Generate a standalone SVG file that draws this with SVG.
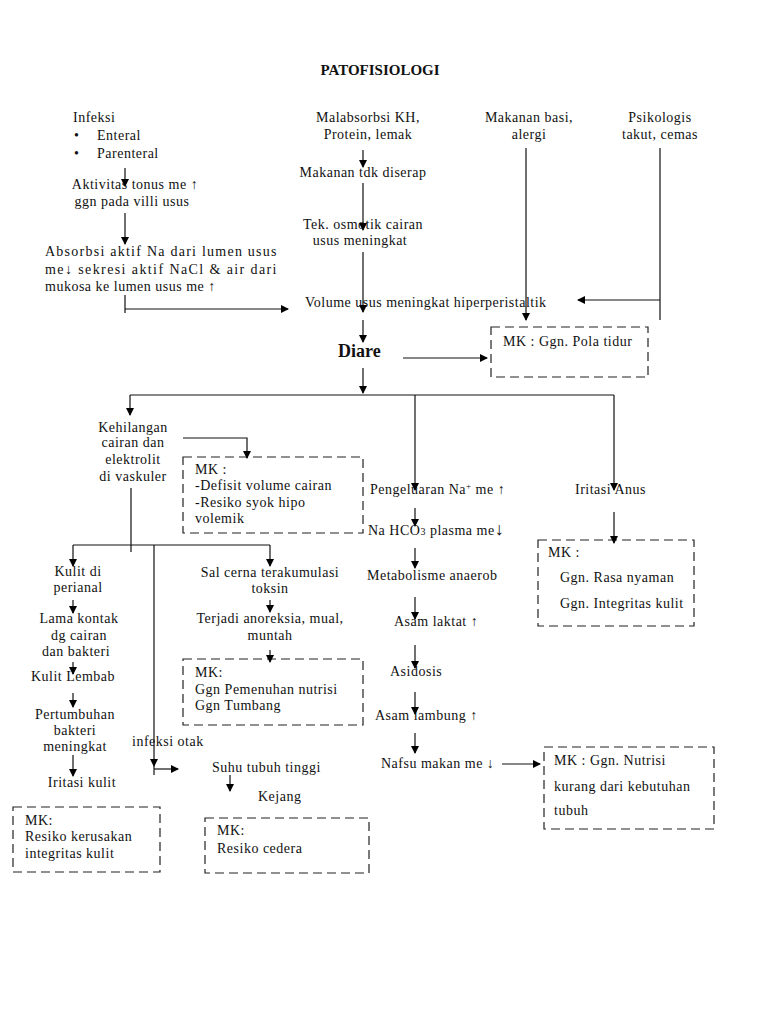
<svg xmlns="http://www.w3.org/2000/svg" width="768" height="1024" viewBox="0 0 768 1024">
<defs>
<marker id="a" markerWidth="8" markerHeight="8" refX="7" refY="4" orient="auto" markerUnits="userSpaceOnUse"><path d="M0,0 L8,4 L0,8 z" fill="#000"/></marker>
<style>
text{font-family:"Liberation Serif",serif;font-size:14px;letter-spacing:0.5px;fill:#111}
.c{text-anchor:middle}
.b{fill:none;stroke:#222;stroke-width:1.2;stroke-dasharray:9 5}
.l{fill:none;stroke:#111;stroke-width:1.2}
.l.ar{marker-end:url(#a)}
</style>
</defs>
<rect width="768" height="1024" fill="#fff"/>
<text x="380" y="75" class="c" style="font-weight:bold;font-size:15px;letter-spacing:0">PATOFISIOLOGI</text>
<g id="infeksi"><text x="73" y="122">Infeksi</text><text x="74" y="140">•</text><text x="97" y="140">Enteral</text><text x="74" y="158">•</text><text x="97" y="158">Parenteral</text></g>
<g id="aktivitas"><text x="135" y="189" class="c">Aktivitas tonus me ↑</text><text x="132" y="206" class="c">ggn pada villi usus</text></g>
<g id="absorbsi"><text x="45" y="256" textLength="232" lengthAdjust="spacing">Absorbsi aktif Na dari lumen usus</text><text x="45" y="274" textLength="232" lengthAdjust="spacing">me↓ sekresi aktif NaCl &amp; air dari</text><text x="45" y="291">mukosa ke lumen usus me ↑</text></g>
<g id="malabsorbsi"><text x="368" y="122" class="c">Malabsorbsi KH,</text><text x="368" y="139" class="c">Protein, lemak</text></g>
<g id="makanan"><text x="363" y="177" class="c">Makanan tdk diserap</text></g>
<g id="tek"><text x="363" y="229" class="c">Tek. osmotik cairan</text><text x="360" y="245" class="c">usus meningkat</text></g>
<g id="volume"><text x="305" y="307">Volume usus meningkat hiperperistaltik</text></g>
<g id="basi"><text x="529" y="122" class="c">Makanan basi,</text><text x="529" y="139" class="c">alergi</text></g>
<g id="psikologis"><text x="660" y="122" class="c">Psikologis</text><text x="660" y="139" class="c">takut, cemas</text></g>
<g id="diare"><text x="338" y="357" style="font-weight:bold;font-size:18px;letter-spacing:0">Diare</text></g>
<g id="mk-tidur"><rect class="b" x="491" y="327" width="157" height="50"/><text x="503" y="346">MK : Ggn. Pola tidur</text></g>
<g id="kehilangan"><text x="133" y="432" class="c">Kehilangan</text><text x="133" y="447" class="c">cairan  dan</text><text x="133" y="464" class="c">elektrolit</text><text x="133" y="481" class="c">di vaskuler</text></g>
<g id="mk-volume"><rect class="b" x="183" y="457" width="180" height="76"/><text x="195" y="474">MK :</text><text x="195" y="490">-Defisit volume cairan</text><text x="195" y="507">-Resiko syok hipo</text><text x="195" y="523">volemik</text></g>
<g id="kulit"><text x="78" y="576" class="c">Kulit di</text><text x="78" y="592" class="c">perianal</text></g>
<g id="lama"><text x="79" y="623" class="c">Lama kontak</text><text x="79" y="640" class="c">dg cairan</text><text x="76" y="656" class="c">dan bakteri</text></g>
<g id="lembab"><text x="73" y="681" class="c">Kulit Lembab</text></g>
<g id="pertumbuhan"><text x="75" y="719" class="c">Pertumbuhan</text><text x="75" y="735" class="c">bakteri</text><text x="75" y="751" class="c">meningkat</text></g>
<g id="iritasi-kulit"><text x="82" y="787" class="c">Iritasi kulit</text></g>
<g id="mk-kulit"><rect class="b" x="13" y="807" width="147" height="65"/><text x="25" y="825">MK:</text><text x="25" y="841">Resiko kerusakan</text><text x="25" y="858">integritas kulit</text></g>
<g id="sal"><text x="270" y="577" class="c">Sal cerna terakumulasi</text><text x="270" y="593" class="c">toksin</text></g>
<g id="anoreksia"><text x="270" y="623" class="c">Terjadi anoreksia, mual,</text><text x="270" y="640" class="c">muntah</text></g>
<g id="mk-nutrisi"><rect class="b" x="183" y="659" width="180" height="66"/><text x="195" y="677">MK:</text><text x="195" y="694">Ggn Pemenuhan nutrisi</text><text x="195" y="710">Ggn Tumbang</text></g>
<g id="otak"><text x="132" y="746">infeksi otak</text></g>
<g id="suhu"><text x="212" y="772">Suhu tubuh tinggi</text></g>
<g id="kejang"><text x="258" y="801">Kejang</text></g>
<g id="mk-cedera"><rect class="b" x="205" y="818" width="164" height="55"/><text x="217" y="835">MK:</text><text x="217" y="853">Resiko cedera</text></g>
<g id="pengeluaran"><text x="370" y="494">Pengeluaran Na<tspan dy="-5" style="font-size:9px">+</tspan><tspan dy="5"> me ↑</tspan></text></g>
<g id="nahco"><text x="368" y="535">Na HCO<tspan style="font-size:10px">3</tspan> plasma me<tspan style="font-size:18px;fill:#111">↓</tspan></text></g>
<g id="metabolisme"><text x="367" y="580">Metabolisme anaerob</text></g>
<g id="laktat"><text x="394" y="626">Asam laktat  ↑</text></g>
<g id="asidosis"><text x="390" y="676">Asidosis</text></g>
<g id="lambung"><text x="375" y="720">Asam lambung ↑</text></g>
<g id="nafsu"><text x="381" y="768">Nafsu makan me ↓</text></g>
<g id="mk-nutrisi2"><rect class="b" x="544" y="747" width="170" height="82"/><text x="554" y="765">MK : Ggn. Nutrisi</text><text x="554" y="791">kurang dari kebutuhan</text><text x="554" y="815">tubuh</text></g>
<g id="anus"><text x="575" y="494">Iritasi Anus</text></g>
<g id="mk-nyaman"><rect class="b" x="538" y="540" width="156" height="86"/><text x="548" y="557">MK :</text><text x="560" y="582">Ggn. Rasa nyaman</text><text x="560" y="608">Ggn. Integritas kulit</text></g>
<g id="connectors">
<path class="l ar" d="M125,168 V186"/>
<path class="l ar" d="M125,213 V244"/>
<path class="l" d="M125,295 V313"/>
<path class="l ar" d="M125,309 H288"/>
<path class="l ar" d="M363,150 V167"/>
<path class="l ar" d="M363,183 V230"/>
<path class="l ar" d="M363,252 V312"/>
<path class="l ar" d="M363,320 V342"/>
<path class="l ar" d="M403,358 H487"/>
<path class="l ar" d="M526,148 V320"/>
<path class="l" d="M660,148 V320"/>
<path class="l ar" d="M660,300 H578"/>
<path class="l ar" d="M363,368 V393"/>
<path class="l" d="M130,395 H614"/>
<path class="l ar" d="M130,395 V415"/>
<path class="l ar" d="M415,395 V490"/>
<path class="l ar" d="M614,395 V490"/>
<path class="l ar" d="M183,438 H247 V458"/>
<path class="l" d="M131,488 V552"/>
<path class="l" d="M73,545 H270"/>
<path class="l ar" d="M73,545 V566"/>
<path class="l ar" d="M270,545 V566"/>
<path class="l ar" d="M154,545 V766"/>
<path class="l" d="M154,766 V775"/>
<path class="l ar" d="M154,769 H178"/>
<path class="l ar" d="M73,600 V613"/>
<path class="l ar" d="M73,662 V674"/>
<path class="l ar" d="M73,693 V707"/>
<path class="l ar" d="M73,755 V776"/>
<path class="l ar" d="M270,600 V612"/>
<path class="l ar" d="M270,650 V662"/>
<path class="l ar" d="M230,775 V791"/>
<path class="l ar" d="M415,508 V526"/>
<path class="l ar" d="M415,548 V568"/>
<path class="l ar" d="M415,597 V619"/>
<path class="l ar" d="M415,645 V668"/>
<path class="l ar" d="M415,692 V714"/>
<path class="l ar" d="M415,733 V753"/>
<path class="l ar" d="M502,764 H540"/>
<path class="l ar" d="M614,512 V543"/>
</g>
</svg>
